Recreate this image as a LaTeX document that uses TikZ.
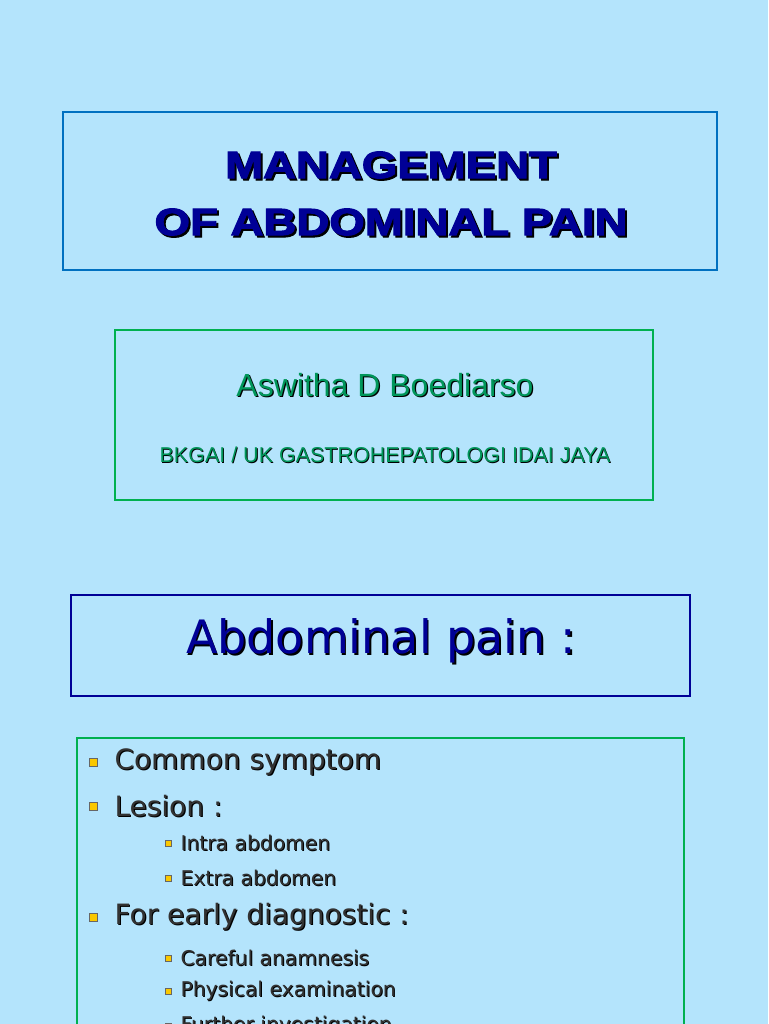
\documentclass[tikz,border=0pt]{standalone}
\usepackage{fontspec}
\setmainfont{Liberation Sans}
\newfontfamily\dv{DejaVu Sans}
\newfontfamily\heavy[FakeBold=2.5]{Liberation Sans Bold}
\definecolor{bg}{RGB}{180,228,252}
\definecolor{tblue}{RGB}{0,112,192}
\definecolor{gr}{RGB}{0,176,80}
\definecolor{dblue}{RGB}{0,0,150}
\definecolor{agreen}{RGB}{0,150,90}
\definecolor{txt}{RGB}{50,50,50}
\definecolor{yel}{RGB}{250,200,0}
\tikzset{
 boxa/.style={draw=#1,line width=1.5pt},
 bl/.style={anchor=west,font=\dv\fontsize{28}{32}\selectfont,text=txt},
 sbl/.style={anchor=west,font=\dv\fontsize{20.3}{24}\selectfont,text=txt},
 sq/.style={fill=yel,draw=black!60,line width=0.4pt,minimum size=8pt,inner sep=0pt},
 ssq/.style={fill=yel,draw=black!60,line width=0.4pt,minimum size=6pt,inner sep=0pt},
}
\usetikzlibrary{calc}
\newcommand{\shadnode}[5]{% name, pos, style, text, offset
 \node[#3,text=black] at ($(#2)+(#5,#5)$) {#4};
 \node[#3] (#1) at (#2) {#4};}
\begin{document}
\begin{tikzpicture}[x=1pt,y=-1pt]
\clip (0,0) rectangle (768,1024);
\fill[bg] (0,0) rectangle (768,1024);
\useasboundingbox (0,0) rectangle (768,1024);
\draw[boxa=tblue] (63,112) rectangle (717,270);
\draw[boxa=gr] (115,330) rectangle (653,500);
\draw[boxa=dblue] (71,595) rectangle (690,696);
\draw[boxa=gr] (77,738) rectangle (684,1040);
\tikzset{tt/.style={font=\heavy\fontsize{38}{40}\selectfont,text=dblue,xscale=1.2,transform shape}}
\shadnode{t1}{391,165}{tt}{MANAGEMENT}{2}
\shadnode{t2}{391,222}{tt}{OF ABDOMINAL PAIN}{2}
\shadnode{au}{385,385}{font=\fontsize{32}{36}\selectfont,text=agreen}{Aswitha D Boediarso}{1.2}
\shadnode{af}{385,455}{font=\fontsize{21.5}{24}\selectfont,text=agreen}{BKGAI / UK GASTROHEPATOLOGI IDAI JAYA}{0.8}
\shadnode{ap}{381,641}{font=\dv\fontsize{46}{50}\selectfont,text=dblue}{Abdominal pain :}{1.8}
\foreach \y/\t in {762/Common symptom,806/Lesion :,917/For early diagnostic :}{
 \node[sq] (b\y) at (93,\y) {};
 \node[bl,text=black] at (112.2,\y+1.2) {\t};
 \node[bl] (l\y) at (111,\y) {\t};}
\foreach \y/\t in {843/Intra abdomen,878/Extra abdomen,958/Careful anamnesis,991/Physical examination,1026/Further investigation}{
 \node[ssq] (s\y) at (168,\y) {};
 \node[sbl,text=black] at (178,\y+1) {\t};
 \node[sbl] (m\y) at (177,\y) {\t};}
\end{tikzpicture}
\end{document}
